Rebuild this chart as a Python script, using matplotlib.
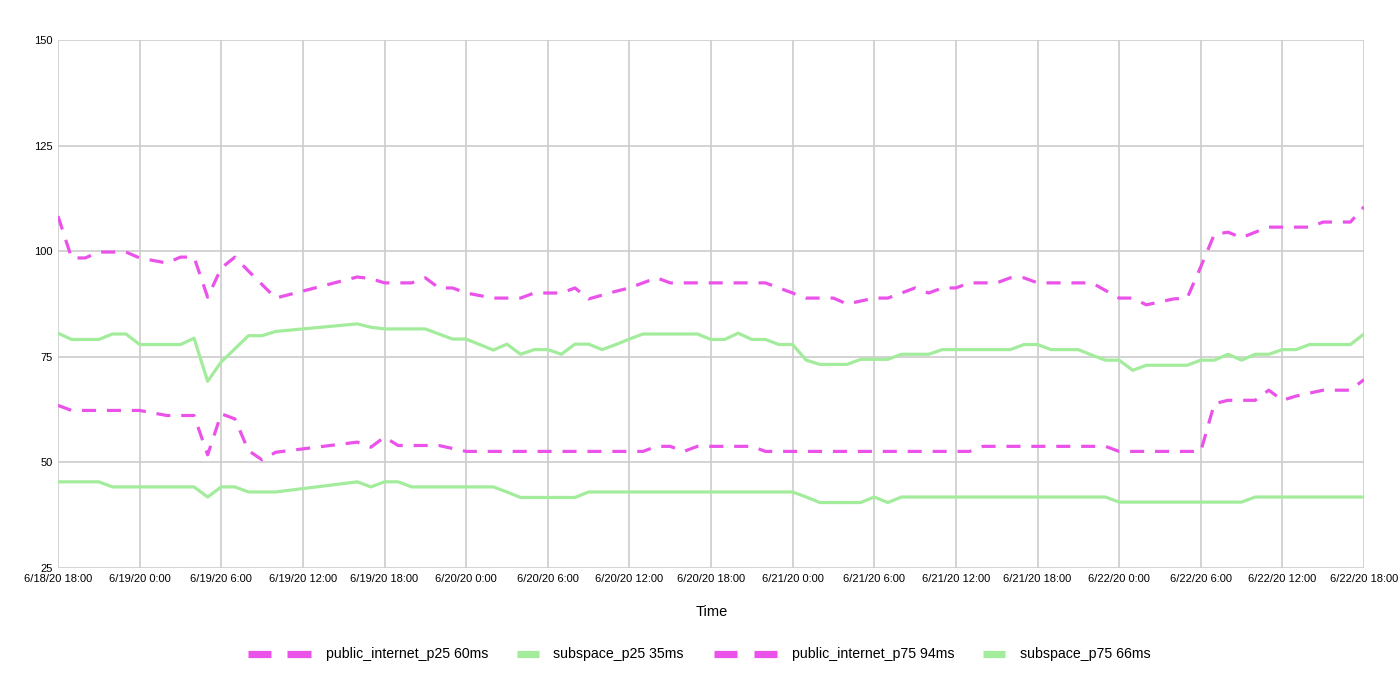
import pandas as pd
import matplotlib.pyplot as plt
from matplotlib.lines import Line2D

plt.rcParams['font.family'] = ['Liberation Sans', 'DejaVu Sans']

# hours after 6/18/20 18:00 (no data between h16 and h22)
hours = list(range(0, 17)) + list(range(22, 97))

public_p25 = [63.5, 62.3, 62.3, 62.3, 62.3, 62.3, 62.3, 61.7, 61.1, 61.1, 61.1, 51.8, 61.5, 60.3, 52.8, 50.6, 52.4,
              54.8, 53.6, 56.0, 54.0, 54.0, 54.0, 54.0, 53.3, 52.6, 52.6,
              52.6, 52.6, 52.6, 52.6, 52.6, 52.6, 52.6, 52.6, 52.6, 52.6,
              52.6, 52.6, 53.8, 53.8, 52.6, 53.8, 53.8, 53.8, 53.8, 53.8,
              52.6, 52.6, 52.6, 52.6, 52.6, 52.6, 52.6, 52.6, 52.6, 52.6,
              52.6, 52.6, 52.6, 52.6, 52.6, 52.6, 53.8, 53.8, 53.8, 53.8,
              53.8, 53.8, 53.8, 53.8, 53.8, 53.8, 52.6, 52.6, 52.6, 52.6,
              52.6, 52.6, 52.6, 63.9, 64.7, 64.7, 64.7, 67.1, 64.7, 65.7,
              66.4, 67.1, 67.1, 67.1, 69.6]

subspace_p25 = [45.4, 45.4, 45.4, 45.4, 44.2, 44.2, 44.2, 44.2, 44.2, 44.2, 44.2, 41.8, 44.2, 44.2, 43.0, 43.0, 43.0,
                45.4, 44.2, 45.4, 45.4, 44.2, 44.2, 44.2, 44.2, 44.2, 44.2,
                44.2, 43.0, 41.7, 41.7, 41.7, 41.7, 41.7, 43.0, 43.0, 43.0,
                43.0, 43.0, 43.0, 43.0, 43.0, 43.0, 43.0, 43.0, 43.0, 43.0,
                43.0, 43.0, 43.0, 41.8, 40.5, 40.5, 40.5, 40.5, 41.8, 40.5,
                41.8, 41.8, 41.8, 41.8, 41.8, 41.8, 41.8, 41.8, 41.8, 41.8,
                41.8, 41.8, 41.8, 41.8, 41.8, 41.8, 40.6, 40.6, 40.6, 40.6,
                40.6, 40.6, 40.6, 40.6, 40.6, 40.6, 41.8, 41.8, 41.8, 41.8,
                41.8, 41.8, 41.8, 41.8, 41.8]

public_p75 = [108.3, 98.4, 98.4, 99.8, 99.8, 99.8, 98.4, 97.8, 97.2, 98.6, 98.6, 89.1, 96.0, 98.6, 95.3, 92.1, 88.9,
              93.9, 93.5, 92.5, 92.5, 92.5, 93.7, 91.3, 91.3, 90.1, 89.5,
              88.9, 88.9, 88.9, 90.1, 90.1, 90.1, 91.3, 88.7, 89.6, 90.5,
              91.3, 92.5, 93.7, 92.5, 92.5, 92.5, 92.5, 92.5, 92.5, 92.5,
              92.5, 91.3, 90.1, 88.9, 88.9, 88.9, 87.5, 88.2, 88.9, 88.9,
              90.1, 91.3, 90.1, 91.3, 91.3, 92.5, 92.5, 92.5, 93.7, 93.7,
              92.5, 92.5, 92.5, 92.5, 92.5, 90.7, 88.9, 88.9, 87.3, 88.0,
              88.7, 88.9, 96.3, 104.0, 104.5, 103.2, 104.5, 105.7, 105.7, 105.7,
              105.7, 106.9, 106.9, 106.9, 110.5]

subspace_p75 = [80.6, 79.1, 79.1, 79.1, 80.4, 80.4, 77.9, 77.9, 77.9, 77.9, 79.4, 69.2, 73.8, 76.9, 80.0, 80.0, 81.0,
                82.8, 82.0, 81.6, 81.6, 81.6, 81.6, 80.4, 79.2, 79.2, 77.9,
                76.6, 78.0, 75.6, 76.7, 76.7, 75.6, 78.0, 78.0, 76.7, 77.9,
                79.2, 80.4, 80.4, 80.4, 80.4, 80.4, 79.1, 79.1, 80.6, 79.1,
                79.1, 77.9, 77.9, 74.2, 73.2, 73.2, 73.2, 74.4, 74.4, 74.4,
                75.6, 75.6, 75.6, 76.7, 76.7, 76.7, 76.7, 76.7, 76.7, 77.9,
                77.9, 76.7, 76.7, 76.7, 75.4, 74.2, 74.2, 71.8, 73.0, 73.0,
                73.0, 73.0, 74.2, 74.2, 75.6, 74.2, 75.6, 75.6, 76.7, 76.7,
                77.9, 77.9, 77.9, 77.9, 80.4]

labels = ["public_internet_p25 60ms", "subspace_p25 35ms",
          "public_internet_p75 94ms", "subspace_p75 66ms"]

start = pd.Timestamp("2020-06-18 18:00")
times = [start + pd.Timedelta(hours=h) for h in hours]
tick_times = [start + pd.Timedelta(hours=6 * i) for i in range(17)]
tick_labels = [f"{t.month}/{t.day}/20 {t.hour}:00" for t in tick_times]

magenta = "#ea52ea"
green = "#a2ec9c"
dash = (0, (4.4, 3.4))

W, H = 1400, 700
fig = plt.figure(figsize=(14, 7), dpi=100)
ax = fig.add_axes([58 / W, 1 - 568 / H, 1306 / W, 528 / H])

ax.plot(times, public_p25, color=magenta, lw=2.3, ls=dash)
ax.plot(times, subspace_p25, color=green, lw=2.3)
ax.plot(times, public_p75, color=magenta, lw=2.3, ls=dash)
ax.plot(times, subspace_p75, color=green, lw=2.3)

ax.set_xlim(tick_times[0], tick_times[-1])
ax.set_ylim(25, 150)
ax.set_xticks(tick_times)
ax.set_xticklabels(tick_labels, fontsize=8)
ax.set_yticks([25, 50, 75, 100, 125, 150])
ax.set_yticklabels(["25", "50", "75", "100", "125", "150"], fontsize=8)
ax.tick_params(length=0, pad=4)
ax.grid(True, color="#cccccc", lw=1.2)
ax.set_axisbelow(True)
for s in ax.spines.values():
    s.set_visible(False)

fig.text(712 / W, 1 - 612 / H, "Time", ha="center", va="center", fontsize=10.5)

# legend drawn by hand: dashed keys are two short bars, solid keys one bar
ly = 1 - 654 / H
keys = [[(248, 271), (287, 311)], [(517, 539)], [(714, 737), (754, 777)], [(983, 1005)]]
text_x = [326, 553, 792, 1020]
key_colors = [magenta, green, magenta, green]
for segs, tx, c, lab in zip(keys, text_x, key_colors, labels):
    for x0, x1 in segs:
        fig.add_artist(Line2D([x0 / W, x1 / W], [ly, ly], color=c, lw=5.2,
                              solid_capstyle="butt", transform=fig.transFigure))
    fig.text(tx / W, ly, lab, ha="left", va="center", fontsize=10.2)

plt.savefig("out.png")
